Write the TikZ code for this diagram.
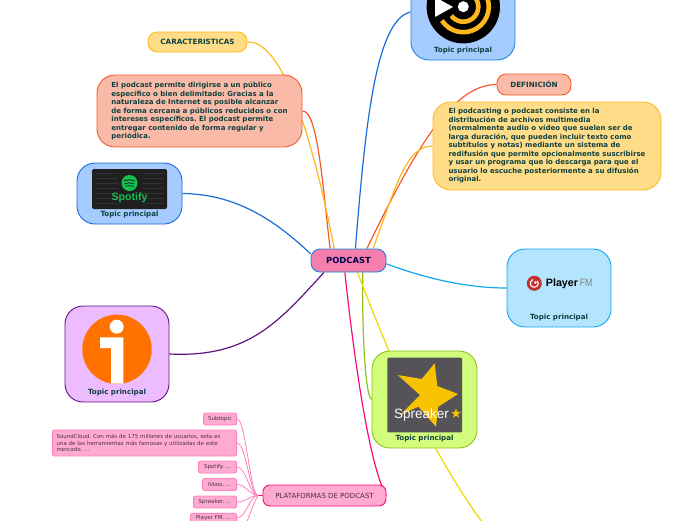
\documentclass[tikz,border=0pt]{standalone}
\usepackage{fontspec}
\setmainfont{DejaVu Sans}
\newfontfamily\logofont{Liberation Sans}
\usetikzlibrary{backgrounds, shapes.geometric}

\definecolor{inkdark}{HTML}{10403F}
\definecolor{blueback}{HTML}{A6CBFF}
\definecolor{blueline}{HTML}{1A6BDC}
\definecolor{peach}{HTML}{F9BBA8}
\definecolor{redline}{HTML}{F9582A}
\definecolor{sand}{HTML}{FFDD88}
\definecolor{amber}{HTML}{FFB81C}
\definecolor{hotpink}{HTML}{FF0A78}
\definecolor{softpink}{HTML}{FFAAD0}
\definecolor{paleline}{HTML}{FF80BC}
\definecolor{podpink}{HTML}{F47FAD}
\definecolor{lilac}{HTML}{EDBBFF}
\definecolor{plum}{HTML}{5E1480}
\definecolor{skyback}{HTML}{B3E5FF}
\definecolor{skyline}{HTML}{10A8F0}
\definecolor{limeback}{HTML}{D2FC7C}
\definecolor{limeline}{HTML}{8EC21A}
\definecolor{sunline}{HTML}{F2D600}
\definecolor{slategray}{HTML}{555358}
\definecolor{stargold}{HTML}{F7C200}
\definecolor{spotgreen}{HTML}{16C04C}
\definecolor{iconorange}{HTML}{FF7200}
\definecolor{playerred}{HTML}{C4302E}

\tikzset{
    topicbox/.style={draw, line width=0.9pt, rounded corners=18pt, minimum width=104pt, inner sep=0pt},
    notebox/.style={draw, line width=0.9pt, rounded corners=18pt, inner sep=0pt, text=inkdark, align=left, font=\fontsize{7}{8.5}\selectfont\bfseries\frenchspacing},
    tagbox/.style={draw, line width=0.9pt, rounded corners=9pt, inner sep=0pt, text=inkdark, font=\fontsize{7.2}{8}\selectfont\bfseries},
    topiclabel/.style={text=inkdark, inner sep=0pt, font=\fontsize{7.1}{8}\selectfont\bfseries},
    subbox/.style={draw=paleline, fill=softpink, line width=0.9pt, rounded corners=2pt, inner sep=0pt, text=black!70!softpink, align=left, font=\fontsize{5.5}{6.7}\selectfont\frenchspacing},
    link/.style={line width=1.2pt},
    sublink/.style={draw=paleline, line width=0.8pt}
}

\begin{document}
\begin{tikzpicture}[x=1pt,y=-1pt]
    \useasboundingbox (0,0) rectangle (696,520);

    % main boxes
    \node[topicbox, fill=blueback, draw=blueline!80!cyan, minimum height=96pt] (anchorbox) at (463,12) {};
    \node[topicbox, fill=blueback, draw=blueline, minimum width=105pt, minimum height=61pt] (spotifybox) at (129.5,193.5) {};
    \node[topicbox, fill=lilac, draw=plum, minimum height=96pt] (ivooxbox) at (117,354) {};
    \node[topicbox, fill=skyback, draw=skyline, minimum height=78pt] (playerbox) at (559,288) {};
    \node[topicbox, fill=limeback, draw=limeline, minimum width=105pt, minimum height=97pt] (spreakerbox) at (424.5,399.5) {};

    \node[draw=blueline!60!skyline, fill=podpink, line width=0.9pt, rounded corners=9pt, minimum width=75pt, minimum height=23pt, inner sep=0pt, text=blue!30!black, font=\fontsize{8.4}{9}\selectfont\bfseries] (podcast) at (348.5,260.5) {PODCAST};

    \node[tagbox, fill=sand, draw=amber, minimum width=99pt, minimum height=20pt] (caract) at (197.5,42) {CARACTERISTICAS};
    \node[tagbox, fill=peach, draw=redline, minimum width=74pt, minimum height=21pt] (definicion) at (534,84.5) {DEFINICIÓN};

    \node[notebox, fill=peach, draw=redline, minimum width=205pt, minimum height=72pt] (ventajas) at (199.5,111) {El podcast permite dirigirse a un público\\específico o bien delimitado: Gracias a la\\naturaleza de Internet es posible alcanzar\\de forma cercana a públicos reducidos o con\\intereses específicos. El podcast permite\\entregar contenido de forma regular y\\periódica.};
    \node[notebox, fill=sand, draw=amber, minimum width=228pt, minimum height=88pt] (concepto) at (547,146) {El podcasting o podcast consiste en la\\distribución de archivos multimedia\\(normalmente audio o vídeo que suelen ser de\\larga duración, que pueden incluir texto como\\subtítulos y notas) mediante un sistema de\\redifusión que permite opcionalmente suscribirse\\y usar un programa que lo descarga para que el\\usuario lo escuche posteriormente a su difusión\\original.};

    \node[draw=hotpink, fill=softpink, line width=0.9pt, rounded corners=7pt, minimum width=123pt, minimum height=21pt, inner sep=0pt, text=black!70!softpink, font=\fontsize{7}{8}\selectfont] (plataformas) at (324.5,495.5) {PLATAFORMAS DE PODCAST};

    % subtopics
    \node[subbox, minimum width=33pt, minimum height=12pt, anchor=east] (subtopic) at (237,419) {Subtopic};
    \node[subbox, minimum width=184pt, minimum height=26pt, anchor=east, text width=176pt, inner xsep=4pt] (soundcloud) at (237,443) {SoundCloud. Con más de 175 millones de usuarios, esta es\\una de las herramientas más famosas y utilizadas de este\\mercado. ...};
    \node[subbox, minimum width=38pt, minimum height=12pt, anchor=east] (subspotify) at (237,467) {Spotify. ...};
    \node[subbox, minimum width=34pt, minimum height=12pt, anchor=east] (subivoox) at (237,484.5) {iVoox. ...};
    \node[subbox, minimum width=43pt, minimum height=12pt, anchor=east] (subspreaker) at (237,502) {Spreaker. ...};
    \node[subbox, minimum width=46pt, minimum height=9pt, anchor=east] (subplayer) at (237,517.8) {Player FM. ...};
    \coordinate (hub) at (258,495.5);
    \coordinate (offpage) at (237,538);
    \coordinate (bottomend) at (482,522);

    % topic labels
    \node[topiclabel] (anchorlabel) at (463,50.5) {Topic principal};
    \node[topiclabel] (spotifylabel) at (129.5,214.5) {Topic principal};
    \node[topiclabel] (ivooxlabel) at (117,392.5) {Topic principal};
    \node[topiclabel] (playerlabel) at (559,317.5) {Topic principal};
    \node[topiclabel] (spreakerlabel) at (424.5,438.5) {Topic principal};

    % logo of the top box
    \fill[black] (463.3,6.7) circle [radius=36.7];
    \draw[amber, line width=4.6pt] (463.3,6.7) ++(147:25.5) arc [start angle=147, end angle=-90, radius=25.5];
    \draw[amber, line width=4.6pt] (463.3,6.7) ++(143:15) arc [start angle=143, end angle=-90, radius=15];
    \fill[white] (463.3,6.7) circle [radius=5.5];
    \fill[white] (435,-3) -- (453,7) -- (435,17) -- cycle;

    % logo of spotify
    \fill[black!88, rounded corners=2pt] (92,169) rectangle (167,209);
    \foreach \rowy in {173,178,183,188,193,198,203} {
        \draw[black!80, line width=0.8pt] (96,\rowy) -- (118,\rowy);
        \draw[black!80, line width=0.8pt] (142,\rowy) -- (164,\rowy);
    }
    \fill[spotgreen] (129.5,183) circle [radius=8];
    \draw[black!88, line width=0.9pt, line cap=round] (124.5,180.5) .. controls (128,179.5) and (131,179.5) .. (134.5,181);
    \draw[black!88, line width=0.8pt, line cap=round] (125,183.5) .. controls (128,182.5) and (131,182.5) .. (134,184);
    \draw[black!88, line width=0.7pt, line cap=round] (125.5,186) .. controls (128,185.5) and (131,185.5) .. (133.5,186.5);
    \node[text=spotgreen, inner sep=0pt, font=\logofont\fontsize{10.6}{12}\selectfont\bfseries] (spotifylogo) at (129.5,198) {Spotify};

    % logo of the purple box
    \fill[iconorange] (117,349.3) circle [radius=34.7];
    \fill[white] (116.7,326.7) circle [radius=7];
    \fill[white] (100,337.3) -- (123.3,337.3) -- (123.3,383.5) -- (111,383.5) -- (111,348) -- (100,348) -- cycle;

    % logo of player fm
    \fill[playerred] (534.3,283.3) circle [radius=7.5];
    \draw[white, line width=1.1pt] (534.3,283.3) ++(-40:4) arc [start angle=-40, end angle=250, radius=4];
    \fill[white] (535.3,282.5) circle [radius=1.5];
    \node[anchor=west, inner sep=0pt, font=\logofont\fontsize{10.7}{12}\selectfont] (playerlogo) at (545.7,283.5) {\textbf{Player}\,\textcolor{black!50}{\scalebox{0.82}[1]{FM}}};

    % logo of spreaker
    \fill[slategray, rounded corners=1pt] (387.3,357.7) rectangle (462,432.3);
    \fill[stargold] (434.7,363.3) -- (437.3,386) -- (458,394) -- (438.3,406.7) -- (436,426.7) -- (418.3,406.7) -- (400,415) -- (420,395) -- (397.7,375) -- (421.7,379) -- cycle;
    \node[text=white, inner sep=0pt, font=\logofont\fontsize{13.5}{14}\selectfont] (spreakerlogo) at (421.5,415) {Spreaker};
    \node[star, star points=5, star point ratio=2.4, fill=stargold, minimum size=10pt, inner sep=0pt] (spreakerstar) at (456,413.5) {};

    \begin{pgfonlayer}{background}
        \draw[link, blueline] (podcast.60) .. controls (365,130) and (375,20) .. (anchorbox.west);
        \draw[link, redline] (ventajas.east) .. controls (318,110) and (323,190) .. (podcast.147);
        \draw[link, amber] (caract.east) .. controls (285,40) and (315,150) .. (podcast.140);
        \draw[link, redline] (definicion.west) .. controls (450,84) and (410,160) .. (podcast.33);
        \draw[link, amber] (concepto.west) .. controls (405,146) and (395,190) .. (podcast.26);
        \draw[link, skyline] (podcast.-5) .. controls (430,280) and (470,288) .. (playerbox.west);
        \draw[link, blueline] (spotifybox.east) .. controls (240,194) and (280,225) .. (podcast.170);
        \draw[link, plum] (ivooxbox.east) .. controls (250,358) and (280,320) .. (podcast.-154);
        \draw[link, limeline] (podcast.-40) .. controls (362,330) and (365,395) .. (spreakerbox.west);
        \draw[link, sunline] (podcast.-53) .. controls (395,370) and (430,450) .. (bottomend);
        \draw[link, hotpink] (podcast.-107) .. controls (352,340) and (368,465) .. (plataformas.east);
        \draw[link, hotpink] (plataformas.west) -- (hub);
        \foreach \subname/\suby in {subtopic/419, soundcloud/443, subspotify/467, subivoox/484.5, subspreaker/502, subplayer/517.8} {
            \draw[sublink] (hub) .. controls (250,495.5) and (246,\suby) .. (\subname.east);
        }
        \draw[sublink] (hub) .. controls (252,505) and (248,525) .. (offpage);
    \end{pgfonlayer}
\end{tikzpicture}
\end{document}
